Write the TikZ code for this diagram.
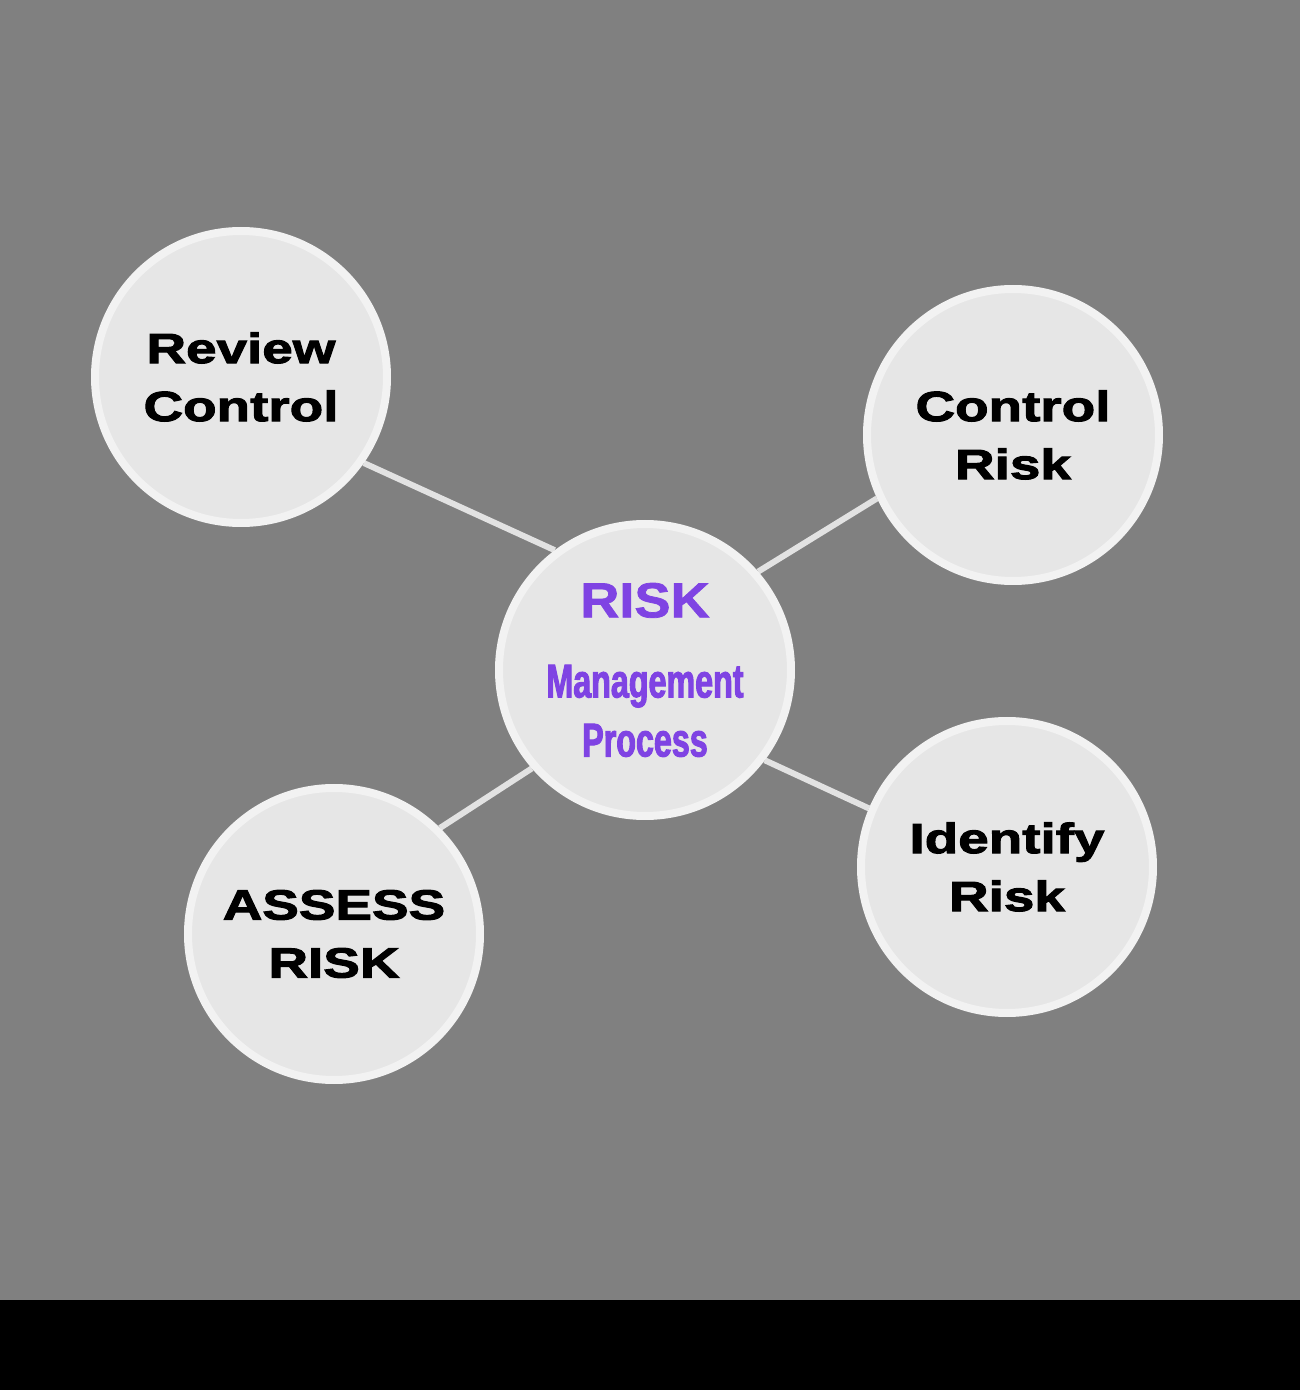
\documentclass[tikz,border=0pt]{standalone}
\usepackage{fontspec}
\setmainfont{Liberation Sans}
\newfontfamily\stepfont[FakeStretch=1.3,FakeBold=2.5]{Liberation Sans Bold}
\newfontfamily\riskfont[FakeStretch=1.1,FakeBold=1.5]{Liberation Sans Bold}
\newfontfamily\narrowfont[FakeStretch=0.68,FakeBold=2]{Liberation Sans Bold}
\usetikzlibrary{backgrounds}
\definecolor{bggray}{HTML}{808080}
\definecolor{discfill}{HTML}{E6E6E6}
\definecolor{discedge}{HTML}{F2F2F2}
\definecolor{linkgray}{HTML}{E2E2E2}
\definecolor{riskpurple}{HTML}{7F43E3}

\begin{document}
\begin{tikzpicture}[
	disc/.style={circle, fill=discfill, draw=discedge, line width=0.08cm, minimum size=2.92cm, inner sep=0pt, align=center},
	stepdisc/.style={disc, font=\stepfont\fontsize{12}{16.5}\selectfont},
	link/.style={draw=linkgray, line width=0.06cm}]
	\useasboundingbox (0,0) rectangle (13,13.9);
	\node[stepdisc] (review) at (2.41,10.13) {Review\\Control};
	\node[stepdisc] (ctrl) at (10.13,9.55) {Control\\Risk};
	\node[stepdisc] (ident) at (10.07,5.23) {Identify\\Risk};
	\node[stepdisc] (assess) at (3.34,4.56) {ASSESS\\RISK};
	\node[disc, text=riskpurple, font=\narrowfont\fontsize{13.5}{16.8}\selectfont] (core) at (6.45,7.20) {{\riskfont\fontsize{14}{16}\selectfont RISK}\\[6pt]Management\\Process};
	\begin{scope}[on background layer]
		\fill[bggray] (0,0.9) rectangle (13,13.9);
		\fill[black] (0,0) rectangle (13,0.9);
		\draw[link] (core.127.8) -- (review.-35.4);
		\draw[link] (core.41.3) -- (ctrl.205.9);
		\draw[link] (core.-37) -- (ident.157.2);
		\draw[link] (core.221) -- (assess.45.8);
	\end{scope}
\end{tikzpicture}
\end{document}
